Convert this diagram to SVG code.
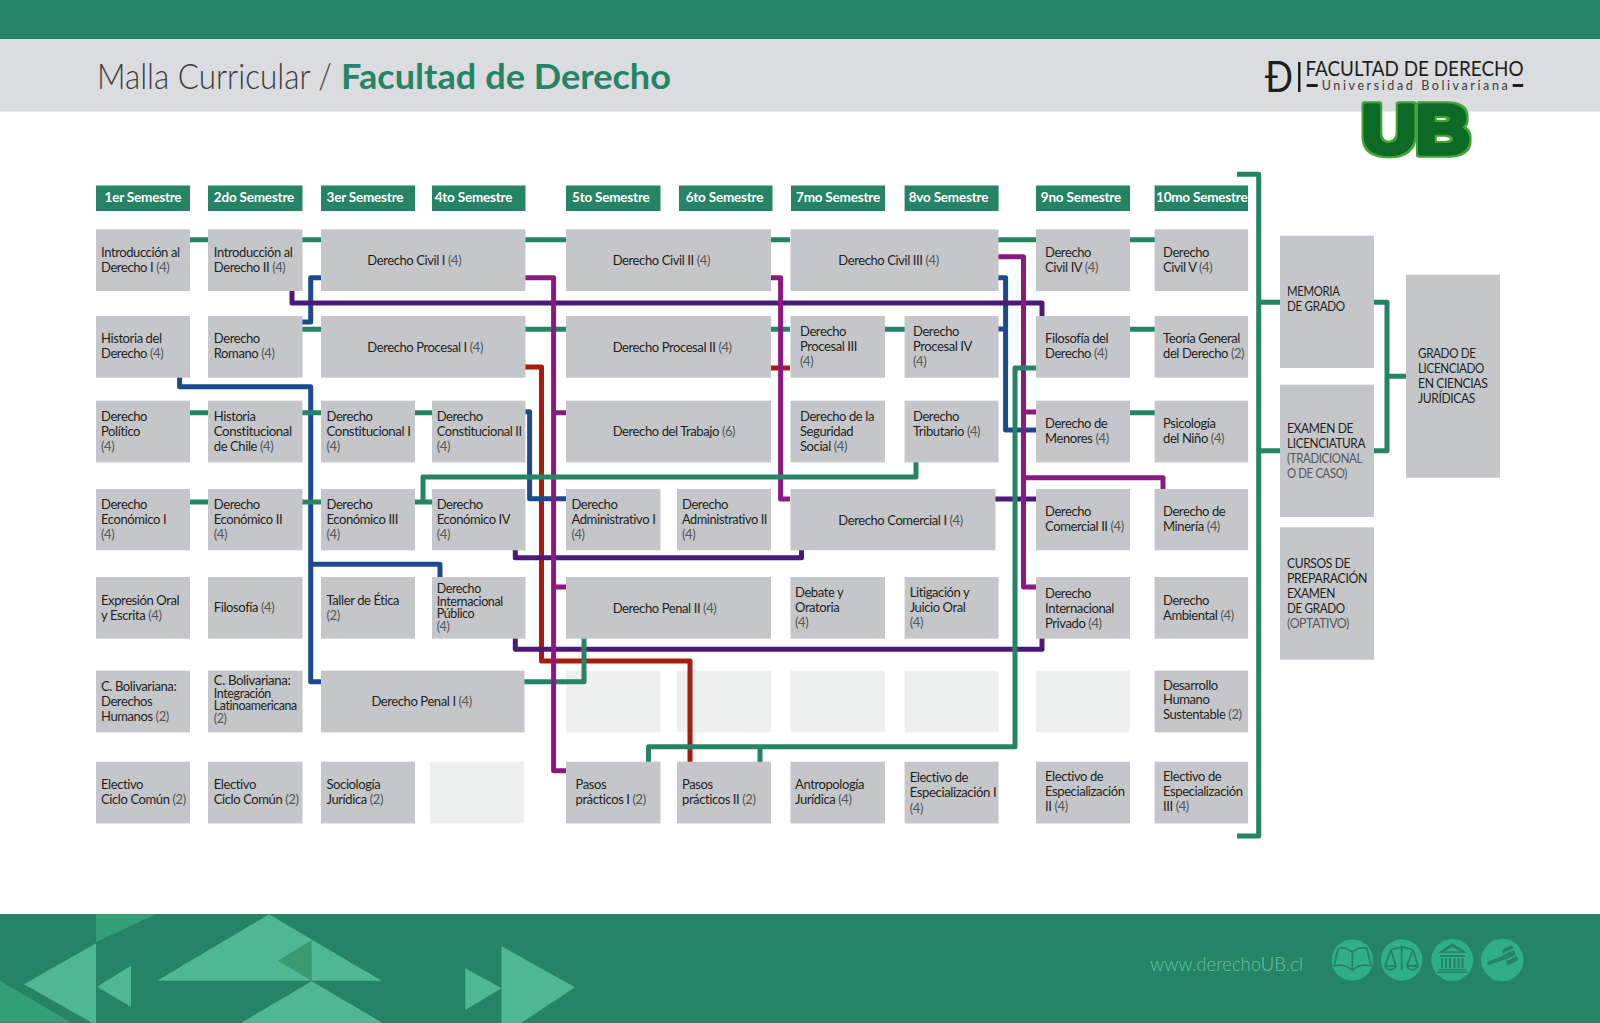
<svg xmlns="http://www.w3.org/2000/svg" width="1600" height="1023" viewBox="0 0 1600 1023">
<defs>
<filter id="ub-outline" x="-10%" y="-10%" width="120%" height="120%">
<feMorphology in="SourceAlpha" operator="dilate" radius="1.600" result="d"/>
<feFlood flood-color="#3fa535"/>
<feComposite in2="d" operator="in" result="o"/>
<feMerge><feMergeNode in="o"/><feMergeNode in="SourceGraphic"/></feMerge>
</filter>
</defs>
<style>
text{font-family:"Lato","Liberation Sans",sans-serif}
.b{fill:#c5c6c9}.e{fill:#eeefef}.h{fill:#248465}
.t{font-size:13px;fill:#1f1f22;letter-spacing:-.4px}
.s{font-size:12.500px}
.t tspan.c{fill:#55565a}
.ht{font-size:13.500px;fill:#fff;font-weight:700;letter-spacing:-.2px}
.l{fill:none;stroke-width:5;stroke-linejoin:round;stroke-linecap:butt}
.g{stroke:#248465}.bl{stroke:#1d4a8e}.p{stroke:#4a1a78}.m{stroke:#8a1a80}.r{stroke:#a81c10}
.lt{fill:#50b795}.md{fill:#35a078}
.ic{fill:none;stroke:#248465;stroke-width:1.800;stroke-linejoin:round}
</style>
<rect width="1600" height="1023" fill="#fff"/>
<rect id="top-band" width="1600" height="39" fill="#248465"/>
<rect id="title-band" y="39" width="1600" height="72.500" fill="#dadcdf"/>
<rect id="bottom-band" y="914" width="1600" height="109" fill="#248465"/>
<g id="footer-shapes">
<polygon class="lt" points="96,943.300 24,984.300 96,1025"/>
<polygon class="lt" points="131,965.700 97,986.700 131,1006.700"/>
<polygon class="lt" points="269,914.300 157,980.700 381.600,980.700"/>
<polygon fill="#3a9a72" points="311.700,940 278,960.700 311.700,980.700"/>
<polygon class="lt" points="311.700,981.300 240.800,1023 382.700,1023"/>
<polygon class="lt" points="465.300,968.300 501.500,988.300 465.300,1010"/>
<polygon class="lt" points="501.500,946 575,987.300 521,1023 501.500,1023"/>
<polygon class="md" points="96,914.300 155.600,914.300 96,942.300"/>
<polygon class="md" points="0,980.700 70.400,1022.300 0,1022.300"/>
</g>
<text id="title" x="97" y="89" font-size="35" fill="#3a3b3d" font-weight="300" textLength="235" lengthAdjust="spacingAndGlyphs">Malla Curricular /</text>
<text id="title-bold" x="341" y="89" font-size="35" fill="#248465" font-weight="700" textLength="330" lengthAdjust="spacingAndGlyphs">Facultad de Derecho</text>
<g id="logo">
<text x="1265" y="92" font-size="42" fill="#1e1e20" textLength="28" lengthAdjust="spacingAndGlyphs">Ð</text>
<rect x="1298" y="62" width="2.500" height="30" fill="#1e1e20"/>
<text x="1305.500" y="76" font-size="21" fill="#1e1e20" textLength="218" lengthAdjust="spacingAndGlyphs">FACULTAD DE DERECHO</text>
<rect x="1306.700" y="84" width="11" height="3" fill="#1e1e20"/>
<text x="1321.700" y="90" font-size="12.500" fill="#3a3b3d" textLength="186" lengthAdjust="spacing">Universidad Bolivariana</text>
<rect x="1512.700" y="84" width="10.500" height="3" fill="#1e1e20"/>
<text x="1362" y="152.800" font-size="69" font-weight="700" style="font-family:'Liberation Sans',sans-serif" fill="#0b6a26" stroke="#0b6a26" stroke-width="5.500" stroke-linejoin="round" filter="url(#ub-outline)" textLength="108" lengthAdjust="spacingAndGlyphs">UB</text>
</g>
<g id="empty-cells">
<rect class="e" x="566" y="670.700" width="94.500" height="61.700"/>
<rect class="e" x="677" y="670.700" width="94" height="61.700"/>
<rect class="e" x="790.500" y="670.700" width="94.500" height="61.700"/>
<rect class="e" x="904.600" y="670.700" width="94" height="61.700"/>
<rect class="e" x="1036" y="670.700" width="94" height="61.700"/>
<rect class="e" x="430" y="761.700" width="94" height="61.700"/>
</g>
<g id="connectors">
<path class="l r" d="M525 367H541.500V661H690V762"/>
<path class="l p" d="M515.300 550V557.700H801.500V550"/>
<path class="l p" d="M515.300 638V649.300H1042V638"/>
<path class="l bl" d="M302 322H310.700V277.700H321"/>
<path class="l bl" d="M179.600 377V386.700H310.700V681.700H321M310.700 564.300H440V577"/>
<path class="l bl" d="M525 411.700H529.600V498.700H566"/>
<path class="l bl" d="M998 277.700H1005.600V430H1036M998 329H1005.600"/>
<path class="l p" d="M292 291V303H1042V316"/>
<path class="l p" d="M995 499H1036"/>
<path class="l g" d="M190 239.700H208M302 239.700H321M525 239.700H566M771 239.700H790M998 239.700H1036M1130 239.700H1155"/>
<path class="l g" d="M302 329.300H321M525 329.300H566M771 329.300H790M885 329.300H905M1130 329.300H1155"/>
<path class="l g" d="M524 681.700H584V638"/>
<path class="l m" d="M525 277.700H553.600V770.700H566M553.600 412.700H566M553.600 587H566"/>
<path class="l r" d="M771 368H790"/>
<path class="l m" d="M771 277.700H780.600V499H790"/>
<path class="l m" d="M998 256.700H1023.500V587H1036M1023.500 412H1036M1023.500 477.700H1163V489"/>
<path class="l g" d="M190 412.700H208M302 412.700H321M415 412.700H432M1130 412.700H1155"/>
<path class="l g" d="M190 502H208M302 502H321M415 502H432M423 502V477H916V462"/>
<path class="l g" d="M648.500 762V746.700H1015V368H1036M760 746.700V762"/>
<path class="l g" d="M1237 174.300H1258.700V836H1237M1258.700 302.300H1280M1258.700 450.700H1280"/>
<path class="l g" d="M1374 302.300H1387V450.700H1374M1387 376.300H1406"/>
</g>
<g id="headers">
<g id="h1"><rect class="h" x="96" y="185.500" width="94" height="25.500"/><text class="ht" x="104.600" y="201.500">1er Semestre</text></g>
<g id="h2"><rect class="h" x="208" y="185.500" width="94.500" height="25.500"/><text class="ht" x="213.800" y="201.500">2do Semestre</text></g>
<g id="h3"><rect class="h" x="321" y="185.500" width="94" height="25.500"/><text class="ht" x="326.500" y="201.500">3er Semestre</text></g>
<g id="h4"><rect class="h" x="432" y="185.500" width="93.500" height="25.500"/><text class="ht" x="434.700" y="201.500">4to Semestre</text></g>
<g id="h5"><rect class="h" x="566" y="185.500" width="94.500" height="25.500"/><text class="ht" x="572" y="201.500">5to Semestre</text></g>
<g id="h6"><rect class="h" x="679" y="185.500" width="93.500" height="25.500"/><text class="ht" x="685.700" y="201.500">6to Semestre</text></g>
<g id="h7"><rect class="h" x="791" y="185.500" width="94" height="25.500"/><text class="ht" x="796" y="201.500">7mo Semestre</text></g>
<g id="h8"><rect class="h" x="904.600" y="185.500" width="94" height="25.500"/><text class="ht" x="908.700" y="201.500">8vo Semestre</text></g>
<g id="h9"><rect class="h" x="1036" y="185.500" width="94" height="25.500"/><text class="ht" x="1040.800" y="201.500">9no Semestre</text></g>
<g id="h10"><rect class="h" x="1154.600" y="185.500" width="93.500" height="25.500"/><text class="ht" x="1156" y="201.500">10mo Semestre</text></g>
</g>
<g id="nodes">
<g id="intro1"><rect class="b" x="96" y="229.300" width="94" height="61.700"/><text class="t"><tspan x="101" y="257">Introducción al</tspan><tspan x="101" y="272">Derecho I <tspan class="c">(4)</tspan></tspan></text></g>
<g id="intro2"><rect class="b" x="208" y="229.300" width="94.500" height="61.700"/><text class="t"><tspan x="213.800" y="257">Introducción al</tspan><tspan x="213.800" y="272">Derecho II <tspan class="c">(4)</tspan></tspan></text></g>
<g id="civil1"><rect class="b" x="321" y="229.300" width="204.500" height="61.700"/><text class="t" x="367.300" y="265">Derecho Civil I <tspan class="c">(4)</tspan></text></g>
<g id="civil2"><rect class="b" x="566" y="229.300" width="205" height="61.700"/><text class="t" x="612.700" y="265">Derecho Civil II <tspan class="c">(4)</tspan></text></g>
<g id="civil3"><rect class="b" x="790.500" y="229.300" width="208" height="61.700"/><text class="t" x="838.300" y="265">Derecho Civil III <tspan class="c">(4)</tspan></text></g>
<g id="civil4"><rect class="b" x="1036" y="229.300" width="94" height="61.700"/><text class="t"><tspan x="1045" y="257">Derecho</tspan><tspan x="1045" y="272">Civil IV <tspan class="c">(4)</tspan></tspan></text></g>
<g id="civil5"><rect class="b" x="1154.600" y="229.300" width="93.500" height="61.700"/><text class="t"><tspan x="1163" y="257">Derecho</tspan><tspan x="1163" y="272">Civil V <tspan class="c">(4)</tspan></tspan></text></g>

<g id="historia"><rect class="b" x="96" y="316" width="94" height="61.700"/><text class="t"><tspan x="101" y="343">Historia del</tspan><tspan x="101" y="358">Derecho <tspan class="c">(4)</tspan></tspan></text></g>
<g id="romano"><rect class="b" x="208" y="316" width="94.500" height="61.700"/><text class="t"><tspan x="213.800" y="343">Derecho</tspan><tspan x="213.800" y="358">Romano <tspan class="c">(4)</tspan></tspan></text></g>
<g id="procesal1"><rect class="b" x="321" y="316" width="204.500" height="61.700"/><text class="t" x="367.300" y="351.500">Derecho Procesal I <tspan class="c">(4)</tspan></text></g>
<g id="procesal2"><rect class="b" x="566" y="316" width="205" height="61.700"/><text class="t" x="612.700" y="351.500">Derecho Procesal II <tspan class="c">(4)</tspan></text></g>
<g id="procesal3"><rect class="b" x="790.500" y="316" width="94.500" height="61.700"/><text class="t"><tspan x="800" y="336">Derecho</tspan><tspan x="800" y="351">Procesal III</tspan><tspan class="c" x="800" y="366">(4)</tspan></text></g>
<g id="procesal4"><rect class="b" x="904.600" y="316" width="94" height="61.700"/><text class="t"><tspan x="913" y="336">Derecho</tspan><tspan x="913" y="351">Procesal IV</tspan><tspan class="c" x="913" y="366">(4)</tspan></text></g>
<g id="filosofia-derecho"><rect class="b" x="1036" y="316" width="94" height="61.700"/><text class="t"><tspan x="1045" y="343">Filosofía del</tspan><tspan x="1045" y="358">Derecho <tspan class="c">(4)</tspan></tspan></text></g>
<g id="teoria"><rect class="b" x="1154.600" y="316" width="93.500" height="61.700"/><text class="t"><tspan x="1163" y="343">Teoría General</tspan><tspan x="1163" y="358">del Derecho <tspan class="c">(2)</tspan></tspan></text></g>

<g id="politico"><rect class="b" x="96" y="400.700" width="94" height="61.700"/><text class="t"><tspan x="101" y="421">Derecho</tspan><tspan x="101" y="436">Político</tspan><tspan class="c" x="101" y="451">(4)</tspan></text></g>
<g id="historia-const"><rect class="b" x="208" y="400.700" width="94.500" height="61.700"/><text class="t"><tspan x="213.800" y="421">Historia</tspan><tspan x="213.800" y="436" textLength="78" lengthAdjust="spacingAndGlyphs">Constitucional</tspan><tspan x="213.800" y="451">de Chile <tspan class="c">(4)</tspan></tspan></text></g>
<g id="const1"><rect class="b" x="321" y="400.700" width="94" height="61.700"/><text class="t"><tspan x="326.500" y="421">Derecho</tspan><tspan x="326.500" y="436" textLength="84" lengthAdjust="spacingAndGlyphs">Constitucional I</tspan><tspan class="c" x="326.500" y="451">(4)</tspan></text></g>
<g id="const2"><rect class="b" x="432" y="400.700" width="93.500" height="61.700"/><text class="t"><tspan x="436.700" y="421">Derecho</tspan><tspan x="436.700" y="436" textLength="85" lengthAdjust="spacingAndGlyphs">Constitucional II</tspan><tspan class="c" x="436.700" y="451">(4)</tspan></text></g>
<g id="trabajo"><rect class="b" x="566" y="400.700" width="205" height="61.700"/><text class="t" x="612.700" y="436">Derecho del Trabajo <tspan class="c">(6)</tspan></text></g>
<g id="seguridad"><rect class="b" x="790.500" y="400.700" width="94.500" height="61.700"/><text class="t"><tspan x="800" y="421">Derecho de la</tspan><tspan x="800" y="436">Seguridad</tspan><tspan x="800" y="451">Social <tspan class="c">(4)</tspan></tspan></text></g>
<g id="tributario"><rect class="b" x="904.600" y="400.700" width="94" height="61.700"/><text class="t"><tspan x="913" y="421">Derecho</tspan><tspan x="913" y="436">Tributario <tspan class="c">(4)</tspan></tspan></text></g>
<g id="menores"><rect class="b" x="1036" y="400.700" width="94" height="61.700"/><text class="t"><tspan x="1045" y="428">Derecho de</tspan><tspan x="1045" y="443">Menores <tspan class="c">(4)</tspan></tspan></text></g>
<g id="psicologia"><rect class="b" x="1154.600" y="400.700" width="93.500" height="61.700"/><text class="t"><tspan x="1163" y="428">Psicología</tspan><tspan x="1163" y="443">del Niño <tspan class="c">(4)</tspan></tspan></text></g>

<g id="econ1"><rect class="b" x="96" y="489" width="94" height="61.300"/><text class="t"><tspan x="101" y="509">Derecho</tspan><tspan x="101" y="524">Económico I</tspan><tspan class="c" x="101" y="539">(4)</tspan></text></g>
<g id="econ2"><rect class="b" x="208" y="489" width="94.500" height="61.300"/><text class="t"><tspan x="213.800" y="509">Derecho</tspan><tspan x="213.800" y="524">Económico II</tspan><tspan class="c" x="213.800" y="539">(4)</tspan></text></g>
<g id="econ3"><rect class="b" x="321" y="489" width="94" height="61.300"/><text class="t"><tspan x="326.500" y="509">Derecho</tspan><tspan x="326.500" y="524">Económico III</tspan><tspan class="c" x="326.500" y="539">(4)</tspan></text></g>
<g id="econ4"><rect class="b" x="432" y="489" width="93.500" height="61.300"/><text class="t"><tspan x="436.700" y="509">Derecho</tspan><tspan x="436.700" y="524">Económico IV</tspan><tspan class="c" x="436.700" y="539">(4)</tspan></text></g>
<g id="admin1"><rect class="b" x="566" y="489" width="94.500" height="61.300"/><text class="t"><tspan x="571.400" y="509">Derecho</tspan><tspan x="571.400" y="524" textLength="84" lengthAdjust="spacingAndGlyphs">Administrativo I</tspan><tspan class="c" x="571.400" y="539">(4)</tspan></text></g>
<g id="admin2"><rect class="b" x="677" y="489" width="94" height="61.300"/><text class="t"><tspan x="682" y="509">Derecho</tspan><tspan x="682" y="524" textLength="85" lengthAdjust="spacingAndGlyphs">Administrativo II</tspan><tspan class="c" x="682" y="539">(4)</tspan></text></g>
<g id="comercial1"><rect class="b" x="790.500" y="489" width="205" height="61.300"/><text class="t" x="838.300" y="524.500">Derecho Comercial I <tspan class="c">(4)</tspan></text></g>
<g id="comercial2"><rect class="b" x="1036" y="489" width="94" height="61.300"/><text class="t"><tspan x="1045" y="516">Derecho</tspan><tspan x="1045" y="531">Comercial II <tspan class="c">(4)</tspan></tspan></text></g>
<g id="mineria"><rect class="b" x="1154.600" y="489" width="93.500" height="61.300"/><text class="t"><tspan x="1163" y="516">Derecho de</tspan><tspan x="1163" y="531">Minería <tspan class="c">(4)</tspan></tspan></text></g>

<g id="expresion"><rect class="b" x="96" y="577" width="94" height="61.700"/><text class="t"><tspan x="101" y="604.500">Expresión Oral</tspan><tspan x="101" y="619.500">y Escrita <tspan class="c">(4)</tspan></tspan></text></g>
<g id="filosofia"><rect class="b" x="208" y="577" width="94.500" height="61.700"/><text class="t" x="213.800" y="612">Filosofía <tspan class="c">(4)</tspan></text></g>
<g id="etica"><rect class="b" x="321" y="577" width="94" height="61.700"/><text class="t"><tspan x="326.500" y="604.500">Taller de Ética</tspan><tspan class="c" x="326.500" y="619.500">(2)</tspan></text></g>
<g id="intpub"><rect class="b" x="432" y="577" width="93.500" height="61.700"/><text class="t s"><tspan x="436.700" y="593">Derecho</tspan><tspan x="436.700" y="605.500">Internacional</tspan><tspan x="436.700" y="618">Público</tspan><tspan class="c" x="436.700" y="630.500">(4)</tspan></text></g>
<g id="penal2"><rect class="b" x="566" y="577" width="205" height="61.700"/><text class="t" x="612.700" y="612.500">Derecho Penal II <tspan class="c">(4)</tspan></text></g>
<g id="debate"><rect class="b" x="790.500" y="577" width="94.500" height="61.700"/><text class="t"><tspan x="795" y="596.500">Debate y</tspan><tspan x="795" y="611.500">Oratoria</tspan><tspan class="c" x="795" y="627">(4)</tspan></text></g>
<g id="litigacion"><rect class="b" x="904.600" y="577" width="94" height="61.700"/><text class="t"><tspan x="909.700" y="596.500">Litigación y</tspan><tspan x="909.700" y="611.500">Juicio Oral</tspan><tspan class="c" x="909.700" y="627">(4)</tspan></text></g>
<g id="intpriv"><rect class="b" x="1036" y="577" width="94" height="61.700"/><text class="t"><tspan x="1045" y="598">Derecho</tspan><tspan x="1045" y="612.500" textLength="69" lengthAdjust="spacingAndGlyphs">Internacional</tspan><tspan x="1045" y="627.500">Privado <tspan class="c">(4)</tspan></tspan></text></g>
<g id="ambiental"><rect class="b" x="1154.600" y="577" width="93.500" height="61.700"/><text class="t"><tspan x="1163" y="604.500">Derecho</tspan><tspan x="1163" y="619.500">Ambiental <tspan class="c">(4)</tspan></tspan></text></g>

<g id="cb1"><rect class="b" x="96" y="670.700" width="94" height="61.700"/><text class="t"><tspan x="101" y="690.500">C. Bolivariana:</tspan><tspan x="101" y="705.500">Derechos</tspan><tspan x="101" y="720.500">Humanos <tspan class="c">(2)</tspan></tspan></text></g>
<g id="cb2"><rect class="b" x="208" y="670.700" width="94.500" height="61.700"/><text class="t s"><tspan x="213.800" y="684.500" textLength="76.500" lengthAdjust="spacingAndGlyphs">C. Bolivariana:</tspan><tspan x="213.800" y="697.500">Integración</tspan><tspan x="213.800" y="710" textLength="83" lengthAdjust="spacingAndGlyphs">Latinoamericana</tspan><tspan class="c" x="213.800" y="723">(2)</tspan></text></g>
<g id="penal1"><rect class="b" x="321" y="670.700" width="203.500" height="61.700"/><text class="t" x="371.400" y="706">Derecho Penal I <tspan class="c">(4)</tspan></text></g>
<g id="desarrollo"><rect class="b" x="1154.600" y="670.700" width="93.500" height="61.700"/><text class="t"><tspan x="1163" y="689.500">Desarrollo</tspan><tspan x="1163" y="704">Humano</tspan><tspan x="1163" y="719">Sustentable <tspan class="c">(2)</tspan></tspan></text></g>

<g id="elec1"><rect class="b" x="96" y="761.700" width="94" height="61.700"/><text class="t"><tspan x="101" y="789">Electivo</tspan><tspan x="101" y="804">Ciclo Común <tspan class="c">(2)</tspan></tspan></text></g>
<g id="elec2"><rect class="b" x="208" y="761.700" width="94.500" height="61.700"/><text class="t"><tspan x="213.800" y="789">Electivo</tspan><tspan x="213.800" y="804">Ciclo Común <tspan class="c">(2)</tspan></tspan></text></g>
<g id="sociologia"><rect class="b" x="321" y="761.700" width="94" height="61.700"/><text class="t"><tspan x="326.500" y="789">Sociología</tspan><tspan x="326.500" y="804">Jurídica <tspan class="c">(2)</tspan></tspan></text></g>
<g id="pasos1"><rect class="b" x="566" y="761.700" width="94.500" height="61.700"/><text class="t"><tspan x="575.500" y="789">Pasos</tspan><tspan x="575.500" y="804">prácticos I <tspan class="c">(2)</tspan></tspan></text></g>
<g id="pasos2"><rect class="b" x="677" y="761.700" width="94" height="61.700"/><text class="t"><tspan x="682" y="789">Pasos</tspan><tspan x="682" y="804">prácticos II <tspan class="c">(2)</tspan></tspan></text></g>
<g id="antropologia"><rect class="b" x="790.500" y="761.700" width="94.500" height="61.700"/><text class="t"><tspan x="795" y="789">Antropología</tspan><tspan x="795" y="804">Jurídica <tspan class="c">(4)</tspan></tspan></text></g>
<g id="esp1"><rect class="b" x="904.600" y="761.700" width="94" height="61.700"/><text class="t"><tspan x="909.700" y="782">Electivo de</tspan><tspan x="909.700" y="797" textLength="86.500" lengthAdjust="spacingAndGlyphs">Especialización I</tspan><tspan class="c" x="909.700" y="812.500">(4)</tspan></text></g>
<g id="esp2"><rect class="b" x="1036" y="761.700" width="94" height="61.700"/><text class="t"><tspan x="1045" y="780.500">Electivo de</tspan><tspan x="1045" y="795.500" textLength="79.500" lengthAdjust="spacingAndGlyphs">Especialización</tspan><tspan x="1045" y="810.500">II <tspan class="c">(4)</tspan></tspan></text></g>
<g id="esp3"><rect class="b" x="1154.600" y="761.700" width="93.500" height="61.700"/><text class="t"><tspan x="1163" y="780.500">Electivo de</tspan><tspan x="1163" y="795.500" textLength="79.500" lengthAdjust="spacingAndGlyphs">Especialización</tspan><tspan x="1163" y="810.500">III <tspan class="c">(4)</tspan></tspan></text></g>

<g id="memoria"><rect class="b" x="1280" y="235.700" width="94" height="132.300"/><text class="t"><tspan x="1287" y="295.500" textLength="52.500" lengthAdjust="spacingAndGlyphs">MEMORIA</tspan><tspan x="1287" y="310.500" textLength="57.700" lengthAdjust="spacingAndGlyphs">DE GRADO</tspan></text></g>
<g id="examen"><rect class="b" x="1280" y="384.700" width="94" height="132.300"/><text class="t"><tspan x="1287" y="433" textLength="66" lengthAdjust="spacingAndGlyphs">EXAMEN DE</tspan><tspan x="1287" y="447.500" textLength="78" lengthAdjust="spacingAndGlyphs">LICENCIATURA</tspan><tspan class="c" x="1287" y="462.500" textLength="75" lengthAdjust="spacingAndGlyphs">(TRADICIONAL</tspan><tspan class="c" x="1287" y="477.500" textLength="60" lengthAdjust="spacingAndGlyphs">O DE CASO)</tspan></text></g>
<g id="cursos"><rect class="b" x="1280" y="527.300" width="94" height="132.400"/><text class="t"><tspan x="1287" y="568" textLength="63" lengthAdjust="spacingAndGlyphs">CURSOS DE</tspan><tspan x="1287" y="583" textLength="80" lengthAdjust="spacingAndGlyphs">PREPARACIÓN</tspan><tspan x="1287" y="598" textLength="48" lengthAdjust="spacingAndGlyphs">EXAMEN</tspan><tspan x="1287" y="613" textLength="57.700" lengthAdjust="spacingAndGlyphs">DE GRADO</tspan><tspan class="c" x="1287" y="628" textLength="62" lengthAdjust="spacingAndGlyphs">(OPTATIVO)</tspan></text></g>
<g id="grado"><rect class="b" x="1406" y="274.700" width="94" height="203"/><text class="t"><tspan x="1418" y="358" textLength="57.600" lengthAdjust="spacingAndGlyphs">GRADO DE</tspan><tspan x="1418" y="373" textLength="66" lengthAdjust="spacingAndGlyphs">LICENCIADO</tspan><tspan x="1418" y="388" textLength="69.400" lengthAdjust="spacingAndGlyphs">EN CIENCIAS</tspan><tspan x="1418" y="403" textLength="57" lengthAdjust="spacingAndGlyphs">JURÍDICAS</tspan></text></g>
</g>
<text id="url" x="1150" y="971" font-size="19" font-weight="300" fill="#66c6a6" textLength="153" lengthAdjust="spacingAndGlyphs">www.derechoUB.cl</text>
<g id="icons">
<g id="i-book"><circle cx="1352.300" cy="960" r="20.700" fill="#2fae87"/><path class="ic" d="M1352.300 970V952C1348 948 1342 947 1338 948.500L1334 966C1340 964 1347 966 1352.300 970C1357 966 1364 964 1371 966L1367 948.500C1362 947 1357 948 1352.300 952"/></g>
<g id="i-scale"><circle cx="1401.700" cy="960" r="20.700" fill="#2fae87"/><path class="ic" d="M1401.700 948V970M1391 950C1396 947 1398 949 1401.700 946.500C1405 949 1408 947 1413 950M1391 950L1385 966C1387 971 1394 971 1396 966H1385M1391 950L1396 966M1413 950L1407 966C1409 971 1416 971 1418 966H1407M1413 950L1418 966"/></g>
<g id="i-temple"><circle cx="1452.300" cy="960" r="21" fill="#2fae87"/><path d="M1452.300 943L1438 953H1467ZM1452.300 947L1444 951.500H1460.500ZM1440 955H1465V957H1440ZM1441 958H1443V968H1441ZM1445 958H1447V968H1445ZM1449 958H1451V968H1449ZM1453.500 958H1455.500V968H1453.500ZM1457.500 958H1459.500V968H1457.500ZM1461.500 958H1463.500V968H1461.500ZM1439 969H1466V970.500H1439ZM1437 971.500H1468V973H1437Z" fill="#248465" fill-rule="evenodd"/></g>
<g id="i-gavel"><circle cx="1502.300" cy="960" r="21.300" fill="#2fae87"/><path d="M1487 962L1504 955.500L1505 959.500L1488 965.500Z" fill="#248465"/><path d="M1501.700 950L1511.700 945L1518.300 960L1507.700 965.700Z" fill="#248465"/><path d="M1503.500 954L1513.500 949M1506 960.500L1516 955.500" stroke="#2fae87" stroke-width="1.500" fill="none"/></g>
</g>
</svg>
